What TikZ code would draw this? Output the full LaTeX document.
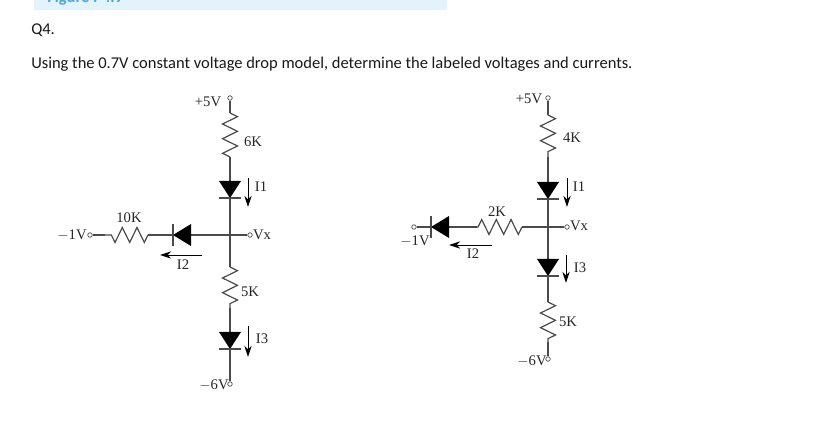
\documentclass[tikz,border=0pt]{standalone}
\usepackage{fontspec}
\setmainfont{Liberation Serif}
\newfontfamily\bodyfont{Carlito}
\usetikzlibrary{decorations.pathmorphing,arrows.meta}
\definecolor{wirec}{HTML}{4A4A4A}
\definecolor{bannerc}{HTML}{E3F3FB}
\definecolor{bannertext}{HTML}{4BA6D6}
\tikzset{
  x=0.75pt,y=-0.75pt,
  wire/.style={draw=wirec,line width=0.9pt},
  res/.style={wire,decorate,decoration={zigzag,segment length=11pt,amplitude=5.6pt}},
  term/.style={circle,draw=wirec,fill=white,line width=0.5pt,inner sep=0pt,minimum size=3.4pt},
  lab/.style={font=\fontsize{11pt}{12pt}\selectfont,text=black!85,inner sep=0pt},
  body/.style={font=\bodyfont\fontsize{12.37pt}{14pt}\selectfont,text=black!90,inner sep=0pt,anchor=base west},
  curr/.style={draw=black,line width=0.7pt,-{Stealth[length=8.5pt,width=5.5pt]}},
  bar/.style={draw=wirec,line width=0.8pt}
}
\newcommand{\diodedown}[1]{%
  \fill[black] (#1) ++(-11,-17) -- ++(22,0) -- ++(-11,17) -- cycle;
  \draw[bar] (#1) ++(-11,0) -- ++(22,0);}
\newcommand{\diodeleft}[1]{%
  \fill[black] (#1) ++(18,-11) -- ++(0,22) -- ++(-18,-11) -- cycle;
  \draw[bar] (#1) ++(0,-11) -- ++(0,22);}
\begin{document}
\begin{tikzpicture}
\useasboundingbox (0,0) rectangle (838,423);
\fill[white] (0,0) rectangle (838,423);
% banner
\fill[bannerc] (34,0) rectangle (447,10);
\begin{scope}
  \clip (0,0) rectangle (838,10);
  \node[body,font=\bodyfont\bfseries\fontsize{12.37pt}{14pt}\selectfont,text=bannertext] (fig) at (47,3) {Figure P4.9};
\end{scope}
\node[body] (q) at (31,35) {Q4.};
\node[body] (stmt) at (31,68.5) {Using the 0.7V constant voltage drop model, determine the labeled voltages and currents.};

% ---------- left circuit
\node[term] (a5) at (230,98) {};
\coordinate (ar1) at (230,113);
\coordinate (ar2) at (230,157);
\coordinate (ad1) at (230,198);
\coordinate (aj) at (230,235);
\node[term] (avx) at (250,235) {};
\coordinate (ar3) at (230,267);
\coordinate (ar4) at (230,308);
\coordinate (ad3) at (230,349);
\node[term] (am6) at (230,384) {};
\coordinate (ad2) at (173,235);
\coordinate (ar5) at (148,235);
\coordinate (ar6) at (105,235);
\node[term] (am1) at (90,235) {};
\draw[wire] (a5) -- (ar1);
\draw[res] (ar1) -- (ar2);
\draw[wire] (ar2) -- (ad1) -- (aj) -- (ar3);
\draw[res] (ar3) -- (ar4);
\draw[wire] (ar4) -- (ad3) -- (am6);
\draw[wire] (avx) -- (aj) -- (ad2) -- (ar5);
\draw[res] (ar5) -- (ar6);
\draw[wire] (ar6) -- (am1);
\diodedown{ad1}
\diodedown{ad3}
\diodeleft{ad2}
\node[lab] (a5l) at (208,102) {+5V};
\node[lab] (a6k) at (253,142) {6K};
\node[lab] (ai1) at (261,187) {I1};
\node[lab] (avxl) at (262,235) {Vx};
\node[lab] (a10k) at (129,218) {10K};
\node[lab] (am1l) at (72,235) {$-$1V};
\node[lab] (ai2) at (183,265) {I2};
\node[lab] (a5k) at (250,292) {5K};
\node[lab] (ai3) at (262,339) {I3};
\node[lab] (am6l) at (214,385) {$-$6V};
\coordinate (ai1a) at (248,178); \coordinate (ai1b) at (248,207);
\coordinate (ai2a) at (202,255); \coordinate (ai2b) at (160,255);
\coordinate (ai3a) at (248,326); \coordinate (ai3b) at (248,357);
\draw[curr] (ai1a) -- (ai1b);
\draw[curr] (ai2a) -- (ai2b);
\draw[curr] (ai3a) -- (ai3b);

% ---------- right circuit
\node[term] (b5) at (548,98) {};
\coordinate (br1) at (548,115);
\coordinate (br2) at (548,157);
\coordinate (bd1) at (548,199);
\coordinate (bj) at (548,227);
\node[term] (bvx) at (567,227) {};
\coordinate (bd3) at (548,276);
\coordinate (br3) at (548,302);
\coordinate (br4) at (548,342);
\node[term] (bm6) at (548,359) {};
\coordinate (br5) at (522,227);
\coordinate (br6) at (477,227);
\coordinate (bd2) at (431,227);
\node[term] (bm1) at (414,227) {};
\draw[wire] (b5) -- (br1);
\draw[res] (br1) -- (br2);
\draw[wire] (br2) -- (bd1) -- (bj) -- (bd3) -- (br3);
\draw[res] (br3) -- (br4);
\draw[wire] (br4) -- (bm6);
\draw[wire] (bvx) -- (bj) -- (br5);
\draw[res] (br5) -- (br6);
\draw[wire] (br6) -- (bd2) -- (bm1);
\diodedown{bd1}
\diodedown{bd3}
\diodeleft{bd2}
\node[lab] (b5l) at (529,99) {+5V};
\node[lab] (b4k) at (572,138) {4K};
\node[lab] (bi1) at (579,187) {I1};
\node[lab] (bvxl) at (579,226) {Vx};
\node[lab] (b2k) at (497,212) {2K};
\node[lab] (bm1l) at (415,241) {$-$1V};
\node[lab] (bi2) at (473,254) {I2};
\node[lab] (bi3) at (580,268) {I3};
\node[lab] (b5k) at (568,322) {5K};
\node[lab] (bm6l) at (532,361) {$-$6V};
\coordinate (bi1a) at (567,178); \coordinate (bi1b) at (567,207);
\coordinate (bi2a) at (492,245); \coordinate (bi2b) at (449,245);
\coordinate (bi3a) at (566,255); \coordinate (bi3b) at (566,283);
\draw[curr] (bi1a) -- (bi1b);
\draw[curr] (bi2a) -- (bi2b);
\draw[curr] (bi3a) -- (bi3b);
\end{tikzpicture}
\end{document}
